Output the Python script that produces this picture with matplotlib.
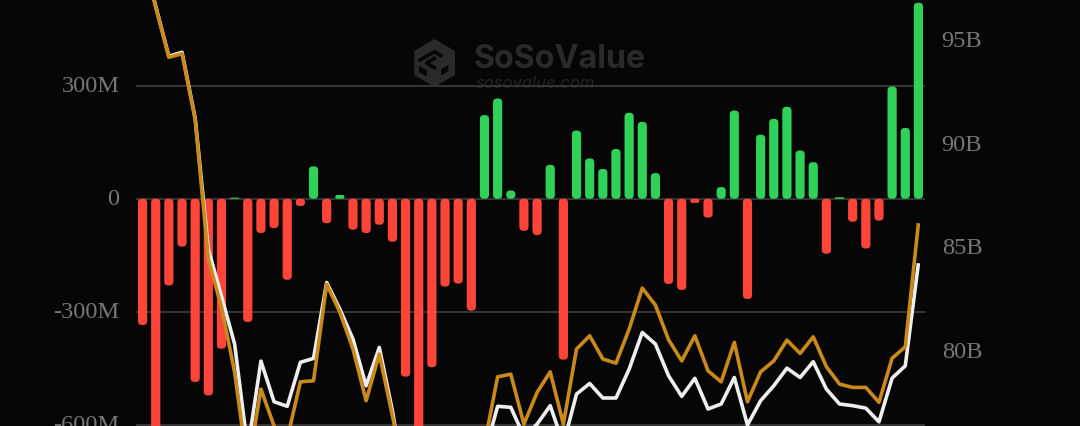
import numpy as np
import matplotlib
matplotlib.use('Agg')
import matplotlib.pyplot as plt
from matplotlib.lines import Line2D
from matplotlib.patches import FancyBboxPatch, Polygon
from matplotlib.transforms import IdentityTransform, ScaledTranslation

# Net flow bars, in millions (bars 1 and 21 run off the bottom of the picture)
flows = [-335, -720, -230, -127, -486, -522, -398, 3, -327, -91,
         -78, -215, -19, 86, -65, 10, -82, -91, -69, -114,
         -472, -720, -447, -233, -225, -297, 222, 266, 22, -85,
         -96, 90, -427, 181, 107, 79, 132, 228, 204, 68,
         -226, -242, -11, -50, 31, 234, -266, 170, 212, 244,
         128, 97, -146, 4, -61, -132, -58, 298, 188, 520]

# Right axis lines, in billions
gold_line = [99.09, 96.53, 94.12, 94.29, 91.13, 84.39, 82.07, 78.94, 74.26, 78.12,
             76.34, 75.71, 78.47, 78.52, 83.18, 81.83, 80.05, 77.56, 79.81, 76.83,
             73.78, 71.85, 70.89, 71.4, 72.3, 74.26, 75.47, 78.71, 78.84, 76.43,
             77.96, 78.95, 76.43, 80.05, 80.69, 79.57, 79.37, 81.01, 82.99, 82.17,
             80.5, 79.48, 80.69, 79.0, 78.47, 80.37, 77.51, 78.95, 79.48, 80.48,
             79.84, 80.64, 79.2, 78.36, 78.2, 78.2, 77.48, 79.61, 80.16, 86.12]
white_line = [99.09, 96.58, 94.17, 94.36, 91.18, 84.87, 82.6, 80.29, 75.23, 79.47,
              77.51, 77.29, 79.41, 79.6, 83.26, 81.98, 80.53, 78.28, 80.13, 77.07,
              73.3, 71.37, 70.41, 70.89, 71.85, 73.54, 74.99, 77.29, 77.24, 75.85,
              76.43, 77.32, 75.47, 77.88, 78.39, 77.69, 77.69, 79.08, 80.85, 80.29,
              78.76, 77.77, 78.64, 77.16, 77.4, 78.68, 76.39, 77.56, 78.28, 79.13,
              78.68, 79.44, 78.12, 77.4, 77.32, 77.2, 76.54, 78.65, 79.24, 84.19]

left_ticks = [-600, -300, 0, 300]
left_labels = ['-600M', '-300M', '0', '300M']
right_ticks = [80, 85, 90, 95]
right_labels = ['80B', '85B', '90B', '95B']

W, H = 1080, 427
BG = '#060606'
GREEN = '#30d158'
RED = '#ff453a'
GOLD = '#c98a1a'
WHITE = '#eeeeee'
GRID = '#3a3a3a'
LABEL = '#767676'
MARK = '#2a2a2a'

plt.rcParams['font.family'] = ['Liberation Serif', 'DejaVu Serif']

fig = plt.figure(figsize=(W / 100, H / 100), dpi=100, facecolor=BG)
ax = fig.add_axes([136 / W, 0, 789 / W, 1])
ax.patch.set_visible(False)
x = np.arange(len(flows))
y_top, y_bottom = 530, -603
ax.set_xlim(-0.5, len(flows) - 0.5)
ax.set_ylim(y_bottom, y_top)

# pixels per data unit, so the rounded corners stay round
x_px = 789 / len(flows)
y_px = H / (y_top - y_bottom)

ax.hlines(left_ticks, -0.5, len(flows) - 0.5, color=GRID, lw=1.3, zorder=1)

for i, v in zip(x, flows):
    w = 9.2 / x_px
    r = min(4.0, abs(v) * y_px / 2)
    bar = FancyBboxPatch((i - w / 2, min(v, 0)), w, abs(v),
                         boxstyle='round,pad=0,rounding_size=%.3f' % (r / x_px),
                         mutation_aspect=x_px / y_px,
                         fc=GREEN if v > 0 else RED, ec='none', zorder=2)
    ax.add_patch(bar)

ax.set_yticks(left_ticks, left_labels)
ax.tick_params(axis='y', length=0, pad=12, labelsize=17.6, labelcolor=LABEL)
ax.set_xticks([])
for s in ax.spines.values():
    s.set_visible(False)
# the labels sit a little above their grid lines
for label in ax.get_yticklabels():
    label.set_transform(label.get_transform() + ScaledTranslation(0, 2.2 / 72, fig.dpi_scale_trans))

ax2 = ax.twinx()
ax2.set_ylim(76.34, 96.93)
ax2.plot(x, white_line, color=WHITE, lw=2.6, solid_capstyle='butt', zorder=3)
ax2.plot(x, gold_line, color=GOLD, lw=2.6, solid_capstyle='butt', zorder=4)
ax2.set_yticks(right_ticks, right_labels)
ax2.tick_params(axis='y', length=0, pad=12, labelsize=17.6, labelcolor=LABEL)
ax2.set_xticks([])
for s in ax2.spines.values():
    s.set_visible(False)
for label in ax2.get_yticklabels():
    label.set_transform(label.get_transform() + ScaledTranslation(0, 0.7 / 72, fig.dpi_scale_trans))

# watermark, behind everything
fig.text(474 / W, 1 - 60 / H, 'SoSoValue', color=MARK, fontsize=23.2, fontweight='bold',
         family=['Inter', 'DejaVu Sans'], va='center', ha='left', zorder=-2)
fig.text(475 / W, 1 - 83 / H, 'sosovalue.com', color='#222222', fontsize=12, style='italic',
         family=['Inter', 'DejaVu Sans'], va='center', ha='left', zorder=-2)


def logo_xy(points):
    # crop coordinates of the logo (3x, from 405,36) to figure pixels
    return [(405 + px / 3, H - (36 + py / 3)) for px, py in points]


identity = IdentityTransform()
fig.add_artist(Polygon(logo_xy([(88, 12), (150, 48), (150, 120), (88, 156), (28, 120), (28, 48)]),
                       fc=MARK, ec='none', transform=identity, zorder=-2))
for poly in ([(108, 102), (130, 90), (130, 108), (108, 122)],
             [(42, 92), (65, 106), (65, 124), (42, 112)]):
    fig.add_artist(Polygon(logo_xy(poly), fc=BG, ec='none', transform=identity, zorder=-2))
for path in ([(45, 75), (88, 50), (108, 62)], [(88, 70), (65, 84), (88, 98)]):
    xs, ys = zip(*logo_xy(path))
    fig.add_artist(Line2D(xs, ys, color=BG, lw=2.6, transform=identity, zorder=-2))

fig.savefig('out.png', dpi=100, facecolor=BG)
